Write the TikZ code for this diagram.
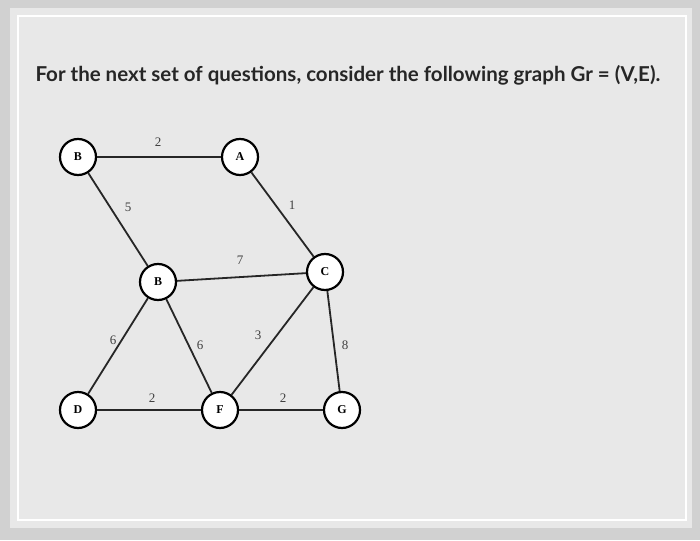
\documentclass[tikz,border=0pt]{standalone}
\usepackage{fontspec}
\setmainfont{Lato}
\newfontfamily\nodefont{Liberation Serif}
\begin{document}
\begin{tikzpicture}[x=1pt,y=-1pt,
  vtx/.style={circle,draw=black,line width=2.2pt,fill=white,minimum size=36pt,inner sep=0pt,font=\nodefont\bfseries\fontsize{12}{14}\selectfont},
  edge/.style={line width=1.8pt,draw=black!85},
  wt/.style={font=\nodefont\fontsize{13}{15}\selectfont,text=black!75}]
\useasboundingbox (0,0) rectangle (700,540);
\fill[black!18] (0,0) rectangle (700,540);
\fill[black!9] (10,8) rectangle (692,528);
\draw[white,line width=2pt] (18,16) rectangle (686,520);
\node[font=\fontsize{20.5}{24}\selectfont\bfseries,text=black!85,anchor=west] (title) at (32,75) {For the next set of questions, consider the following graph Gr = (V,E).};
\node[vtx] (B) at (78,157) {B};
\node[vtx] (A) at (240,157) {A};
\node[vtx] (B2) at (158,282) {B};
\node[vtx] (C) at (325,272) {C};
\node[vtx] (D) at (78,410) {D};
\node[vtx] (F) at (220,410) {F};
\node[vtx] (G) at (342,410) {G};
\draw[edge] (B) -- (A);
\draw[edge] (B) -- (B2);
\draw[edge] (A) -- (C);
\draw[edge] (B2) -- (C);
\draw[edge] (B2) -- (D);
\draw[edge] (B2) -- (F);
\draw[edge] (C) -- (F);
\draw[edge] (C) -- (G);
\draw[edge] (D) -- (F);
\draw[edge] (F) -- (G);
\node[wt] (w1) at (158,142) {2};
\node[wt] (w2) at (128,207) {5};
\node[wt] (w3) at (292,205) {1};
\node[wt] (w4) at (240,260) {7};
\node[wt] (w5) at (113,340) {6};
\node[wt] (w6) at (200,345) {6};
\node[wt] (w7) at (258,335) {3};
\node[wt] (w8) at (345,345) {8};
\node[wt] (w9) at (152,398) {2};
\node[wt] (w10) at (283,398) {2};
\end{tikzpicture}
\end{document}
